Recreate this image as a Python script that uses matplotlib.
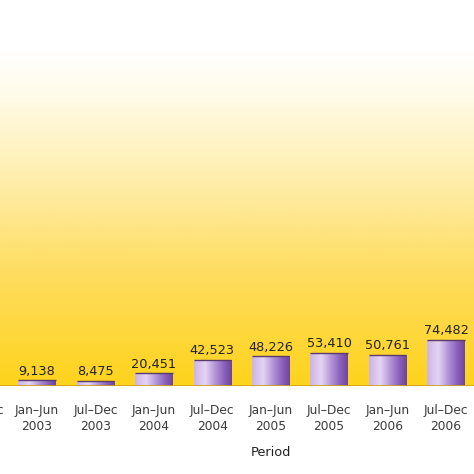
import numpy as np
import matplotlib
matplotlib.use("Agg")
import matplotlib.pyplot as plt
from matplotlib.colors import LinearSegmentedColormap

categories = ["Jul–Dec\n2002", "Jan–Jun\n2003", "Jul–Dec\n2003", "Jan–Jun\n2004", "Jul–Dec\n2004",
              "Jan–Jun\n2005", "Jul–Dec\n2005", "Jan–Jun\n2006", "Jul–Dec\n2006"]
values = [np.nan, 9138, 8475, 20451, 42523, 48226, 53410, 50761, 74482]
xlabel = "Period"

W = H = 474
fig = plt.figure(figsize=(W/100, H/100), dpi=100)
fig.patch.set_facecolor("white")
base_px = 386
ax = fig.add_axes([0, (H - base_px)/H, 1, base_px/H])

x = np.arange(len(categories)) - 1.0
XL = (-0.633, 7.479)
YL = (0, 627000)

# background gradient
bg = LinearSegmentedColormap.from_list("bg", [(0.0, "#FFD31C"), (0.3, "#FEDD62"),
                                              (0.55, "#FEEFB0"), (0.75, "#FFFBE8"), (0.87, "#FFFFFF"), (1.0, "#FFFFFF")])
grad = np.linspace(0, 1, 256).reshape(-1, 1)
ax.imshow(grad, cmap=bg, aspect="auto", origin="lower",
          extent=[XL[0], XL[1], YL[0], YL[1]], zorder=0)

# bars with horizontal gradient
barcm = LinearSegmentedColormap.from_list("bar", [(0.0, "#CDB4E6"), (0.3, "#E4D4F2"),
                                                  (0.55, "#B596D8"), (0.8, "#8A60BA"), (1.0, "#6E449C")])
hgrad = np.linspace(0, 1, 256).reshape(1, -1)
width = 0.64
bars = ax.bar(x, values, width=width, color="none", edgecolor="none", zorder=2)
for b, v in zip(bars, values):
    if np.isnan(v):
        continue
    x0 = b.get_x()
    im = ax.imshow(hgrad, cmap=barcm, aspect="auto",
                   extent=[x0, x0 + width, 0, v], zorder=2)
    im.set_clip_path(b)
    ax.plot([x0, x0 + width], [v, v], color="#5A3A6E", lw=1.0, zorder=3, solid_capstyle="butt")
    ax.text(b.get_x() + width/2, v + 4500, f"{int(v):,}", ha="center", va="bottom",
            fontsize=9.3, color="#222222", zorder=4)

ax.axhline(0, color="#C9A210", lw=1.2, zorder=3)

ax.set_xticks(x)
ax.set_xticklabels(categories, fontsize=8.8, color="#3A3A3A", linespacing=1.25)
ax.tick_params(axis="x", length=0, pad=13)
ax.set_yticks([])
ax.set_xlim(*XL)
ax.set_ylim(*YL)
for s in ax.spines.values():
    s.set_visible(False)

# the first category's label sits mostly outside the visible area
ax.annotate(categories[0], xy=(x[0], 0), xycoords="data", xytext=(2.5, -13),
            textcoords="offset points", ha="center", va="top", fontsize=8.8,
            color="#3A3A3A", linespacing=1.25, annotation_clip=False, clip_on=False)

fig.text(271/W, 1 - 453/H, xlabel, ha="center", va="center", fontsize=9.3, color="#222222")

fig.savefig("out.png", dpi=100, facecolor="white")
